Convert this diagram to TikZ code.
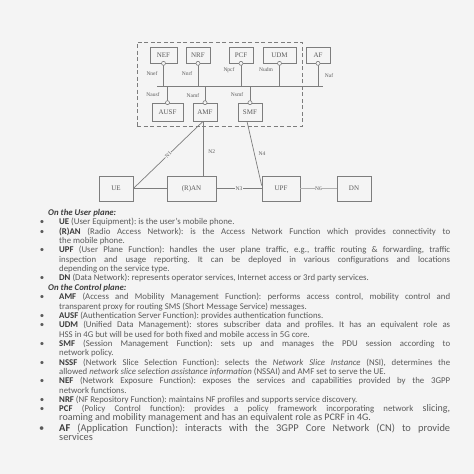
\documentclass[tikz,border=0pt]{standalone}
\usepackage{fontspec}
\setmainfont{Carlito}
\newfontfamily\tnr{Liberation Serif}
\definecolor{bg}{RGB}{244,244,244}
\definecolor{ln}{RGB}{125,125,125}
\definecolor{tx}{RGB}{90,90,90}
\definecolor{bt}{RGB}{60,60,60}
\newcommand\bn[1]{\textcolor{bt}{\textbf{#1}}}
\newcommand\bl{\llap{\textbullet\hskip15pt}}
\newcommand\J[1]{\hbox to 391pt{#1}}
\newcommand\Lf[1]{\hbox{#1}}
\begin{document}
\frenchspacing
\begin{tikzpicture}[x=1pt,y=-1pt,
  nf/.style={draw=ln, line width=0.7pt, inner sep=0pt, font=\tnr\fontsize{7}{8}\selectfont, text=tx},
  port/.style={circle, draw=ln, fill=bg, line width=0.6pt, inner sep=0pt, minimum size=4pt},
  wire/.style={draw=ln, line width=0.7pt},
  lab/.style={font=\tnr\fontsize{5.5}{6}\selectfont, text=tx, inner sep=1pt}]
\path[fill=bg] (0,0) rectangle (474,474);
\useasboundingbox (0,0) rectangle (474,474);
% core frame
\node[draw=ln, dash pattern=on 4pt off 2.5pt, line width=0.8pt, minimum width=165pt, minimum height=84pt, inner sep=0pt] (core) at (219.5,84) {};
% top NFs
\node[nf, minimum width=27pt, minimum height=16pt] (NEF) at (163.5,55) {NEF};
\node[nf, minimum width=24pt, minimum height=16pt] (NRF) at (198,55) {NRF};
\node[nf, minimum width=24pt, minimum height=16pt] (PCF) at (241,55) {PCF};
\node[nf, minimum width=33pt, minimum height=16pt] (UDM) at (279.5,55) {UDM};
\node[nf, minimum width=24pt, minimum height=16pt] (AF) at (318,55) {AF};
% bottom NFs
\node[nf, minimum width=31pt, minimum height=18pt] (AUSF) at (167.5,112) {AUSF};
\node[nf, minimum width=24pt, minimum height=18pt] (AMF) at (205,112) {AMF};
\node[nf, minimum width=24pt, minimum height=18pt] (SMF) at (250,112) {SMF};
% bus
\coordinate (busL) at (157,86);
\coordinate (busR) at (323,86);
\draw[wire] (busL) -- (busR);
\foreach \n in {NEF,NRF,PCF,UDM,AF}{
  \draw[wire] (\n.south) -- (\n.south |- busL);
  \node[port] (p\n) at (\n.south) {};
}
\foreach \n in {AUSF,AMF,SMF}{
  \draw[wire] (\n.north) -- (\n.north |- busL);
  \node[port] (p\n) at (\n.north) {};
}
% service interface labels
\node[lab] (lNEF) at (152,74) {Nnef};
\node[lab] (lNRF) at (187,74) {Nnrf};
\node[lab] (lPCF) at (229,70) {Npcf};
\node[lab] (lUDM) at (266,70) {Nudm};
\node[lab] (lAF) at (329,76) {Naf};
\node[lab] (lAUSF) at (153,95) {Nausf};
\node[lab] (lAMF) at (193,96) {Namf};
\node[lab] (lSMF) at (237,95) {Nsmf};
% access / user plane
\node[nf, minimum width=34pt, minimum height=25pt] (UE) at (116,188.5) {UE};
\node[nf, minimum width=49pt, minimum height=25pt] (RAN) at (191.5,188.5) {(R)AN};
\node[nf, minimum width=38pt, minimum height=25pt] (UPF) at (281,188.5) {UPF};
\node[nf, minimum width=34pt, minimum height=25pt] (DN) at (354,188.5) {DN};
\coordinate (amfb) at ([xshift=-2pt]AMF.south);
\coordinate (smfb) at ([xshift=-3pt]SMF.south);
\coordinate (upfw) at ([yshift=3pt]UPF.west);
\draw[wire] (UE.east) -- (RAN.west);
\draw[wire] (UE.east) -- node[lab, sloped, fill=bg, inner sep=0.3pt] (n1) {N1} (amfb);
\draw[wire] (amfb) -- node[lab, anchor=west, xshift=4pt, pos=0.55] (n2) {N2} (amfb |- RAN.north);
\draw[wire] (smfb) -- node[lab, anchor=west, xshift=3pt, pos=0.5] (n4) {N4} (upfw);
\draw[wire] (RAN.east) -- node[lab, fill=bg, inner sep=0.5pt] (n3) {N3} (UPF.west);
\draw[wire, draw=ln!60] (UPF.east) -- node[lab, fill=bg, inner sep=0.5pt] (n6) {N6} (DN.west);
% description text
\node[anchor=base west, inner sep=0pt, text=tx, font=\fontsize{8.8}{9.35}\selectfont] (txt) at (59,215.5) {\vtop{\baselineskip=9.35pt
\Lf{\hskip-11pt\bn{\textit{On the User plane:}}}
\Lf{\bl\bn{UE} (User Equipment): is the user’s mobile phone.}
\J{\bl\bn{(R)AN} (Radio Access Network): is the Access Network Function which provides connectivity to}
\Lf{the mobile phone.}
\J{\bl\bn{UPF} (User Plane Function): handles the user plane traffic, e.g., traffic routing \& forwarding, traffic}
\J{inspection and usage reporting. It can be deployed in various configurations and locations}
\Lf{depending on the service type.}
\Lf{\bl\bn{DN} (Data Network): represents operator services, Internet access or 3rd party services.}
\Lf{\hskip-11pt\bn{\textit{On the Control plane:}}}
\J{\bl\bn{AMF} (Access and Mobility Management Function): performs access control, mobility control and}
\Lf{transparent proxy for routing SMS (Short Message Service) messages.}
\Lf{\bl\bn{AUSF} (Authentication Server Function): provides authentication functions.}
\J{\bl\bn{UDM} (Unified Data Management): stores subscriber data and profiles. It has an equivalent role as}
\Lf{HSS in 4G but will be used for both fixed and mobile access in 5G core.}
\J{\bl\bn{SMF} (Session Management Function): sets up and manages the PDU session according to}
\Lf{network policy.}
\J{\bl\bn{NSSF} (Network Slice Selection Function): selects the \textit{Network Slice Instance} (NSI), determines the}
\Lf{allowed \textit{network slice selection assistance information} (NSSAI) and AMF set to serve the UE.}
\J{\bl\bn{NEF} (Network Exposure Function): exposes the services and capabilities provided by the 3GPP}
\Lf{network functions.}
\Lf{\bl\bn{NRF} (NF Repository Function): maintains NF profiles and supports service discovery.}
\J{\bl\bn{PCF} (Policy Control function): provides a policy framework incorporating network {\fontsize{10}{10}\selectfont slicing,}}
\baselineskip=8.8pt
\Lf{\fontsize{10}{10}\selectfont roaming and mobility management and has an equivalent role as PCRF in 4G.}
\baselineskip=10.5pt
\J{\fontsize{10.4}{10}\selectfont\bl\bn{AF} (Application Function): interacts with the 3GPP Core Network (CN) to provide}
\baselineskip=8.8pt
\Lf{\fontsize{10.4}{10}\selectfont services}
}};
\end{tikzpicture}
\end{document}
